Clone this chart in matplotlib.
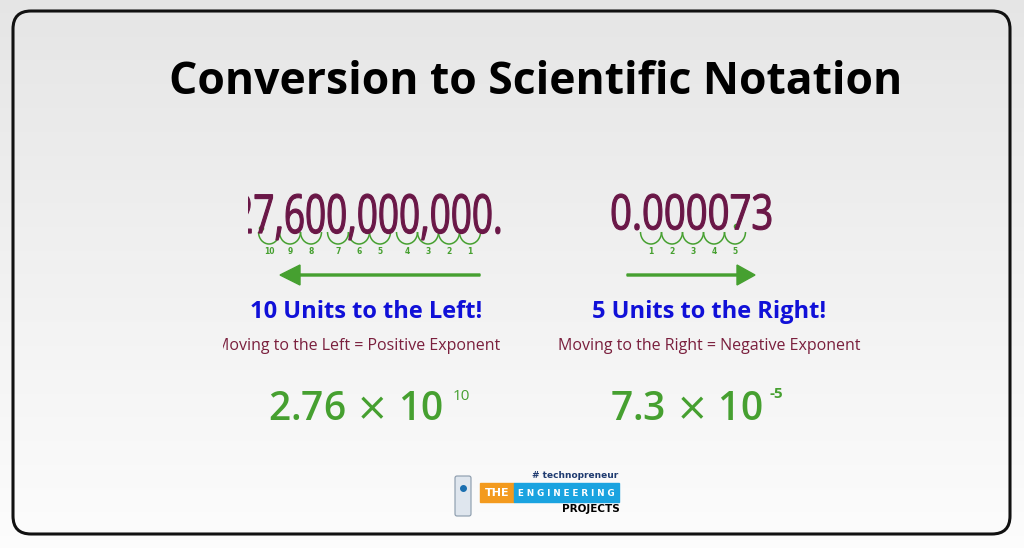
import matplotlib
matplotlib.use("Agg")
import matplotlib.pyplot as plt
import numpy as np
from matplotlib.patches import FancyBboxPatch, Rectangle, Arc, FancyArrow, PathPatch
from matplotlib.textpath import TextPath
from matplotlib.font_manager import FontProperties
from matplotlib.transforms import Affine2D

TITLE = "Conversion to Scientific Notation"
left_number = "27,600,000,000."
right_number = "0.000073"
left_steps = [10, 9, 8, 7, 6, 5, 4, 3, 2, 1]
right_steps = [1, 2, 3, 4, 5]
left_heading = "10 Units to the Left!"
right_heading = "5 Units to the Right!"
left_rule = "Moving to the Left = Positive Exponent"
right_rule = "Moving to the Right = Negative Exponent"

PURPLE = "#6a1747"
GREEN = "#46a030"
BLUE = "#1010d8"
MAROON = "#7a1f3d"

fig = plt.figure(figsize=(10.24, 5.48), dpi=100)
ax = fig.add_axes([0, 0, 1, 1])
ax.set_xlim(0, 1024)
ax.set_ylim(548, 0)
ax.axis("off")


def boxed_text(s, x0, x1, ytop, ybot, color, clip=None):
    """Draw text stretched into a pixel box (y grows downward)."""
    tp = TextPath((0, 0), s, size=100, prop=FontProperties(family="Open Sans"))
    bb = tp.get_extents()
    tr = (Affine2D().translate(-bb.x0, -bb.y0)
          .scale((x1 - x0) / bb.width, -(ybot - ytop) / bb.height)
          .translate(x0, ybot))
    p = PathPatch(tr.transform_path(tp), facecolor=color, edgecolor=color, lw=0.8, zorder=4)
    ax.add_patch(p)
    if clip is not None:
        p.set_clip_path(Rectangle(clip[:2], clip[2], clip[3], transform=ax.transData))


# background gradient
grad = np.linspace(0.90, 0.99, 256)[:, None]
ax.imshow(np.dstack([grad] * 3), extent=(0, 1024, 548, 0), aspect="auto", zorder=0)
frame = FancyBboxPatch((13, 11), 997, 523, boxstyle="round,pad=0,rounding_size=18",
                       facecolor="none", edgecolor="#111111", linewidth=2.2, zorder=1)
ax.add_patch(frame)

ax.text(536, 82, TITLE, ha="center", va="center", fontsize=32, fontweight="bold",
        family="Open Sans", color="black")

# numbers
boxed_text(left_number, 234, 500, 194, 240, PURPLE, clip=(248, 150, 300, 120))
boxed_text(right_number, 612, 771, 194, 230, PURPLE)

# arcs (lower halves; y axis is inverted) and counts
lx = [258 + i * 21 for i in range(10)]
lx = [x + (6 if i >= 3 else 0) + (6 if i >= 6 else 0) for i, x in enumerate(lx)]
for i, s in enumerate(left_steps):
    cx = lx[i] + 11
    ax.add_patch(Arc((cx, 232), 21, 24, theta1=0, theta2=180, color=GREEN, lw=1.1, zorder=3))
    ax.text(cx, 252, str(s), ha="center", va="center", fontsize=5.5, color=GREEN, fontweight="bold")
ax.plot(261, 228, "o", color=GREEN, ms=3)
for i, s in enumerate(right_steps):
    cx = 651 + i * 21
    ax.add_patch(Arc((cx, 232), 21, 24, theta1=0, theta2=180, color=GREEN, lw=1.1, zorder=3))
    ax.text(cx, 252, str(s), ha="center", va="center", fontsize=5.5, color=GREEN, fontweight="bold")
ax.plot(736, 226, "o", color=GREEN, ms=3)

# arrows
ax.add_patch(FancyArrow(480, 275, -200, 0, width=2, head_width=20, head_length=20,
                        length_includes_head=True, color=GREEN))
ax.add_patch(FancyArrow(627, 275, 128, 0, width=2, head_width=20, head_length=18,
                        length_includes_head=True, color=GREEN))

ax.text(366, 312, left_heading, ha="center", va="center", fontsize=17, fontweight="bold",
        family="Open Sans", color=BLUE)
ax.text(709, 312, right_heading, ha="center", va="center", fontsize=17, fontweight="bold",
        family="Open Sans", color=BLUE)
t = ax.text(215, 346, left_rule, ha="left", va="center", fontsize=11.5,
            family="Open Sans", color=MAROON)
t.set_clip_path(Rectangle((223, 320), 320, 50, transform=ax.transData))
t.set_clip_on(True)
ax.text(709, 346, right_rule, ha="center", va="center", fontsize=11.5,
        family="Open Sans", color=MAROON)

# results
ax.text(268, 410, r"2.76 $\times$ 10", ha="left", va="center", fontsize=28,
        family="Open Sans", fontweight="semibold", color=GREEN)
ax.text(453, 396, "10", ha="left", va="center", fontsize=11, family="Open Sans", color=GREEN)
ax.text(610, 410, r"7.3 $\times$ 10", ha="left", va="center", fontsize=28,
        family="Open Sans", fontweight="semibold", color=GREEN)
ax.text(770, 394, "-5", ha="left", va="center", fontsize=11, family="Open Sans",
        color=GREEN, fontweight="bold")

# logo
ax.text(618, 476, "# technopreneur", ha="right", va="center", fontsize=6.5,
        color="#1f3b70", fontweight="bold")
ax.add_patch(Rectangle((480, 483), 34, 19, color="#f39a1e"))
ax.add_patch(Rectangle((514, 483), 105, 19, color="#1aa3e0"))
ax.text(497, 493, "THE", ha="center", va="center", fontsize=8, color="white", fontweight="bold")
ax.text(566, 493, "E N G I N E E R I N G", ha="center", va="center", fontsize=6.3,
        color="white", fontweight="bold")
ax.text(620, 509, "PROJECTS", ha="right", va="center", fontsize=7.5, color="black",
        fontweight="bold")
ax.add_patch(FancyBboxPatch((457, 478), 12, 36, boxstyle="round,pad=2", facecolor="#dfe6ee",
                            edgecolor="#8899aa", lw=0.8))
ax.plot(463, 488, "o", color="#1a6fb0", ms=4)

fig.savefig("out.png", dpi=100)
